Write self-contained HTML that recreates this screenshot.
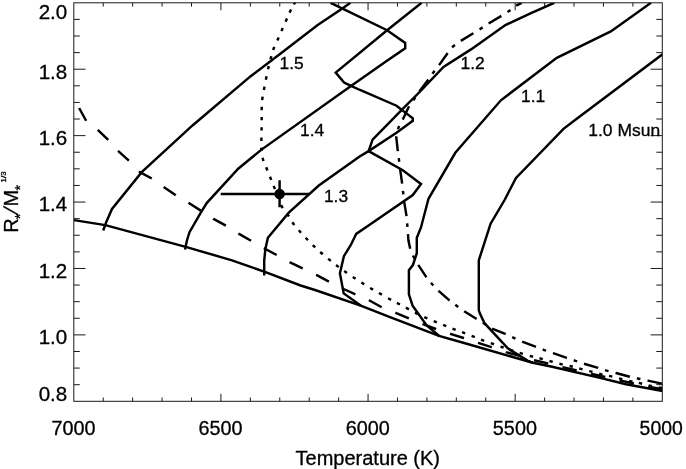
<!DOCTYPE html>
<html lang="en"><head><meta charset="utf-8"><title>Evolutionary tracks</title>
<style>
html,body{margin:0;padding:0;background:#fff;}
body{width:686px;height:469px;overflow:hidden;}
svg{display:block;}
text{font-family:"Liberation Sans","DejaVu Sans",sans-serif;fill:#000;stroke:#000;stroke-width:0.3px;}
.trk{fill:none;stroke:#000;stroke-width:2.45;stroke-linejoin:miter;stroke-linecap:butt;}
.ax{stroke:#1a1a1a;stroke-width:1;fill:none;}
</style></head><body>
<svg width="686" height="469" viewBox="0 0 686 469">
<rect x="0" y="0" width="686" height="469" fill="#fff"/>

<defs><clipPath id="c"><rect x="73.8" y="2.8" width="588.5" height="398.5"/></clipPath></defs>
<path class="ax" d="M103.22 401.30v-3.8M103.22 2.80v3.8M132.65 401.30v-3.8M132.65 2.80v3.8M162.07 401.30v-3.8M162.07 2.80v3.8M191.50 401.30v-3.8M191.50 2.80v3.8M220.93 401.30v-7.5M220.93 2.80v7.5M250.35 401.30v-3.8M250.35 2.80v3.8M279.77 401.30v-3.8M279.77 2.80v3.8M309.20 401.30v-3.8M309.20 2.80v3.8M338.62 401.30v-3.8M338.62 2.80v3.8M368.05 401.30v-7.5M368.05 2.80v7.5M397.48 401.30v-3.8M397.48 2.80v3.8M426.90 401.30v-3.8M426.90 2.80v3.8M456.32 401.30v-3.8M456.32 2.80v3.8M485.75 401.30v-3.8M485.75 2.80v3.8M515.17 401.30v-7.5M515.17 2.80v7.5M544.60 401.30v-3.8M544.60 2.80v3.8M574.02 401.30v-3.8M574.02 2.80v3.8M603.45 401.30v-3.8M603.45 2.80v3.8M632.88 401.30v-3.8M632.88 2.80v3.8M73.80 19.40h6.0M662.30 19.40h-6.0M73.80 36.01h6.0M662.30 36.01h-6.0M73.80 52.61h6.0M662.30 52.61h-6.0M73.80 69.22h11.7M662.30 69.22h-11.7M73.80 85.82h6.0M662.30 85.82h-6.0M73.80 102.42h6.0M662.30 102.42h-6.0M73.80 119.03h6.0M662.30 119.03h-6.0M73.80 135.63h11.7M662.30 135.63h-11.7M73.80 152.24h6.0M662.30 152.24h-6.0M73.80 168.84h6.0M662.30 168.84h-6.0M73.80 185.45h6.0M662.30 185.45h-6.0M73.80 202.05h11.7M662.30 202.05h-11.7M73.80 218.65h6.0M662.30 218.65h-6.0M73.80 235.26h6.0M662.30 235.26h-6.0M73.80 251.86h6.0M662.30 251.86h-6.0M73.80 268.47h11.7M662.30 268.47h-11.7M73.80 285.07h6.0M662.30 285.07h-6.0M73.80 301.68h6.0M662.30 301.68h-6.0M73.80 318.28h6.0M662.30 318.28h-6.0M73.80 334.88h11.7M662.30 334.88h-11.7M73.80 351.49h6.0M662.30 351.49h-6.0M73.80 368.09h6.0M662.30 368.09h-6.0M73.80 384.70h6.0M662.30 384.70h-6.0"/>
<rect class="ax" x="73.80" y="2.80" width="588.50" height="398.50"/>
<g clip-path="url(#c)">
<polyline class="trk" points="74.0,220.1 105.3,225.1 185.7,246.9 232.0,260.3 264.2,271.7 300.6,285.5 315.0,290.0 360.7,305.6 390.0,317.1 439.0,335.9 465.0,343.3 532.9,362.8 551.0,366.5 600.0,377.9 626.0,384.2 662.5,391.0"/>
<polyline class="trk" points="103.2,230.5 106.5,221.4 112.0,209.0 141.7,172.2 192.8,125.2 250.4,76.4 280.0,54.1 317.7,25.1 341.6,9.1 350.4,2.8"/>
<polyline class="trk" points="185.0,249.5 187.0,240.2 189.5,232.2 200.8,212.6 206.7,203.1 238.2,168.7 261.5,149.6 351.0,86.0 385.9,61.6 405.2,48.3 405.2,42.9 387.1,30.2 330.6,2.8"/>
<polyline class="trk" points="264.2,275.4 264.2,260.3 265.4,249.0 267.9,237.7 288.8,212.6 318.8,185.5 360.0,156.3 368.6,151.1 396.5,132.8 412.8,120.8 412.8,118.3 396.5,105.7 360.0,90.0 351.0,85.8 344.1,82.6 335.7,72.6 387.1,30.2 421.6,2.8"/>
<polyline class="trk" points="360.7,305.6 343.7,293.4 339.9,273.3 343.9,256.1 350.8,245.0 356.2,233.9 370.0,224.6 412.8,195.0 421.0,184.0 402.8,170.2 368.6,151.1 372.6,139.7 401.5,110.1 421.6,90.0 443.5,67.0 471.0,49.4 505.4,25.1 531.0,13.2 554.3,2.8"/>
<polyline class="trk" points="439.5,336.3 426.5,325.2 412.6,305.7 408.9,294.4 408.9,270.2 412.9,265.1 416.8,253.2 416.8,237.8 420.9,227.7 428.5,198.8 455.3,152.8 500.9,100.3 556.8,57.8 610.8,31.4 651.0,2.8"/>
<polyline class="trk" points="532.9,362.8 527.9,360.9 507.8,348.4 484.5,323.2 479.5,312.5 478.8,310.0 478.8,260.3 490.6,223.7 504.6,200.0 516.0,177.9 563.5,128.9 576.4,119.0 662.5,54.3"/>
<polyline class="trk" stroke-dasharray="14.6 14.73" points="79.1,108.0 86.5,121.4 97.7,129.7 108.5,140.2 117.3,150.3 129.9,161.6 140.0,172.2 151.8,178.5 163.1,186.7 176.2,195.5 188.2,202.6 202.0,211.4 213.5,218.9 226.3,225.9 239.0,233.9 251.6,241.0 265.4,249.0 277.3,255.3 290.1,262.4 302.6,268.4 316.3,274.9 329.1,281.7 343.7,289.0 355.5,294.3 369.1,300.3 382.1,307.5 395.7,312.9 408.9,318.3 422.9,324.2 435.9,329.0 450.4,333.8 463.6,338.0 478.2,342.9 491.4,347.1 505.9,352.1 520.3,355.9 534.2,360.3 548.0,363.4 562.6,367.1 575.8,370.2 590.9,373.7 604.1,376.7 618.9,380.2 632.9,383.3 647.8,386.7 662.5,389.2"/>
<path class="trk" d="M295.50 1.30L293.90 4.30M291.04 9.57L289.56 12.63M286.99 18.55L285.61 21.65M282.78 27.94L281.42 31.06M278.69 37.45L277.31 40.55M274.30 46.81L273.10 49.99M271.35 56.16L270.45 59.44M268.79 65.94L268.01 69.26M266.54 76.33L265.86 79.67M264.51 86.63L263.89 89.97M262.61 96.71L262.19 100.09M261.76 106.80L261.64 110.20M261.71 116.90L261.69 120.30M261.62 127.20L261.58 130.60M261.42 137.50L261.38 140.90M261.27 147.61L261.53 150.99M262.55 157.76L263.45 161.04M266.17 167.32L267.43 170.48M269.96 176.72L271.24 179.88M273.67 185.92L274.93 189.08M277.47 195.42L278.73 198.58M281.08 205.11L282.72 208.09M287.06 213.69L288.94 216.51M292.30 222.32L294.30 225.08M298.78 230.23L301.02 232.77M305.63 237.77L307.97 240.23M312.78 245.12L315.22 247.48M320.22 252.03L322.78 254.27M328.18 258.73L330.82 260.87M336.05 265.07L338.75 267.13M344.21 271.02L346.99 272.98M352.78 276.96L355.62 278.84M361.36 282.50L364.24 284.30M370.14 287.94L373.06 289.66M378.92 292.96L381.88 294.64M388.11 298.28L391.09 299.92M396.90 302.91L399.90 304.49M405.90 307.70L408.90 309.30M414.88 312.54L417.92 314.06M424.25 317.01L427.35 318.39M433.73 321.05L436.87 322.35M443.12 324.86L446.28 326.14M452.51 328.69L455.69 329.91M462.01 332.20L465.19 333.40M471.62 335.88L474.78 337.12M481.01 339.60L484.19 340.80M490.80 343.13L494.00 344.27M500.50 346.54L503.70 347.66M510.18 349.97L513.42 351.03M519.67 352.92L522.93 353.88M529.76 355.86L533.04 356.74M539.45 358.27L542.75 359.13M549.46 360.95L552.74 361.85M559.45 363.79L562.75 364.61M569.55 366.01L572.85 366.79M579.25 368.47L582.55 369.33M589.26 371.06L592.54 371.94M599.15 373.80L602.45 374.60M609.04 375.92L612.36 376.68M619.05 378.40L622.35 379.20M629.14 380.82L632.46 381.58M638.85 382.91L642.15 383.69M648.64 385.43L651.96 386.17M658.73 387.39L662.07 388.01"/>
<polyline class="trk" stroke-dasharray="14.8 7.2 3.6 7.26" stroke-dashoffset="8.6" points="521.7,2.8 516.0,5.7 509.1,11.1 501.0,16.1 488.4,23.6 480.6,28.7 473.3,33.3 460.7,40.9 453.0,46.5 447.2,53.8 439.1,65.1 433.4,72.4 427.8,80.2 418.3,92.8 414.0,99.4 408.4,107.6 402.8,119.5 398.4,127.7 396.2,136.5 397.7,150.1 399.0,159.9 400.2,169.5 402.1,183.4 403.1,192.3 404.2,201.9 406.5,215.8 407.3,225.0 408.0,234.3 408.4,240.3 410.2,248.8 413.3,256.3 418.4,265.1 426.3,277.1 432.2,284.3 438.6,290.8 449.1,300.1 456.6,305.7 464.2,311.2 476.3,318.8 484.5,323.8 492.7,328.9 505.2,333.9 513.8,337.9 522.2,341.7 535.4,346.7 544.3,350.1 553.2,353.2 566.7,357.9 575.5,360.8 584.0,363.7 598.1,367.9 606.7,370.6 615.9,373.0 630.2,376.8 638.7,378.7 647.8,380.6 662.5,383.7"/>
</g>
<path class="trk" d="M220.7 194H309.3M279.6 180.2V207.2"/>
<circle cx="279.6" cy="194" r="5.2" fill="#000"/>
<text x="67.3" y="18.9" font-size="19.3" text-anchor="end" textLength="28.6" lengthAdjust="spacingAndGlyphs">2.0</text>
<text x="67.3" y="78.6" font-size="19.3" text-anchor="end" textLength="28.6" lengthAdjust="spacingAndGlyphs">1.8</text>
<text x="67.3" y="144.8" font-size="19.3" text-anchor="end" textLength="28.6" lengthAdjust="spacingAndGlyphs">1.6</text>
<text x="67.3" y="211.2" font-size="19.3" text-anchor="end" textLength="28.6" lengthAdjust="spacingAndGlyphs">1.4</text>
<text x="67.3" y="277.5" font-size="19.3" text-anchor="end" textLength="28.6" lengthAdjust="spacingAndGlyphs">1.2</text>
<text x="67.3" y="343.8" font-size="19.3" text-anchor="end" textLength="28.6" lengthAdjust="spacingAndGlyphs">1.0</text>
<text x="67.3" y="401.0" font-size="19.3" text-anchor="end" textLength="28.6" lengthAdjust="spacingAndGlyphs">0.8</text>
<text x="73.5" y="435.3" font-size="19.3" text-anchor="middle" textLength="44.1" lengthAdjust="spacingAndGlyphs">7000</text>
<text x="220.6" y="435.3" font-size="19.3" text-anchor="middle" textLength="44.1" lengthAdjust="spacingAndGlyphs">6500</text>
<text x="367.8" y="435.3" font-size="19.3" text-anchor="middle" textLength="44.1" lengthAdjust="spacingAndGlyphs">6000</text>
<text x="514.9" y="435.3" font-size="19.3" text-anchor="middle" textLength="44.1" lengthAdjust="spacingAndGlyphs">5500</text>
<text x="661.2" y="435.3" font-size="19.3" text-anchor="middle" textLength="43.2" lengthAdjust="spacingAndGlyphs">5000</text>
<text x="367.8" y="464.6" font-size="19.3" text-anchor="middle" textLength="144.5" lengthAdjust="spacingAndGlyphs">Temperature (K)</text>
<g transform="translate(17.9,232.7) rotate(-90)" font-size="20"><text x="0" y="0">R</text><text x="13.5" y="7.5" font-size="14">*</text><text transform="translate(17.3,0) skewX(-16)">/</text><text x="26.1" y="0">M</text><text x="42.2" y="7.5" font-size="14">*</text><text x="50.2" y="-11.7" font-size="8">1/3</text></g>
<text x="279.5" y="69.4" font-size="17.0" text-anchor="start" textLength="24.2" lengthAdjust="spacingAndGlyphs">1.5</text>
<text x="300.1" y="135.7" font-size="17.0" text-anchor="start" textLength="24.2" lengthAdjust="spacingAndGlyphs">1.4</text>
<text x="323.9" y="202.1" font-size="17.0" text-anchor="start" textLength="24.2" lengthAdjust="spacingAndGlyphs">1.3</text>
<text x="460.6" y="69.4" font-size="17.0" text-anchor="start" textLength="24.2" lengthAdjust="spacingAndGlyphs">1.2</text>
<text x="521.0" y="102.2" font-size="17.0" text-anchor="start" textLength="24.2" lengthAdjust="spacingAndGlyphs">1.1</text>
<text x="588.3" y="135.7" font-size="17.0" text-anchor="start" textLength="71.8" lengthAdjust="spacingAndGlyphs">1.0 Msun</text>
</svg></body></html>
